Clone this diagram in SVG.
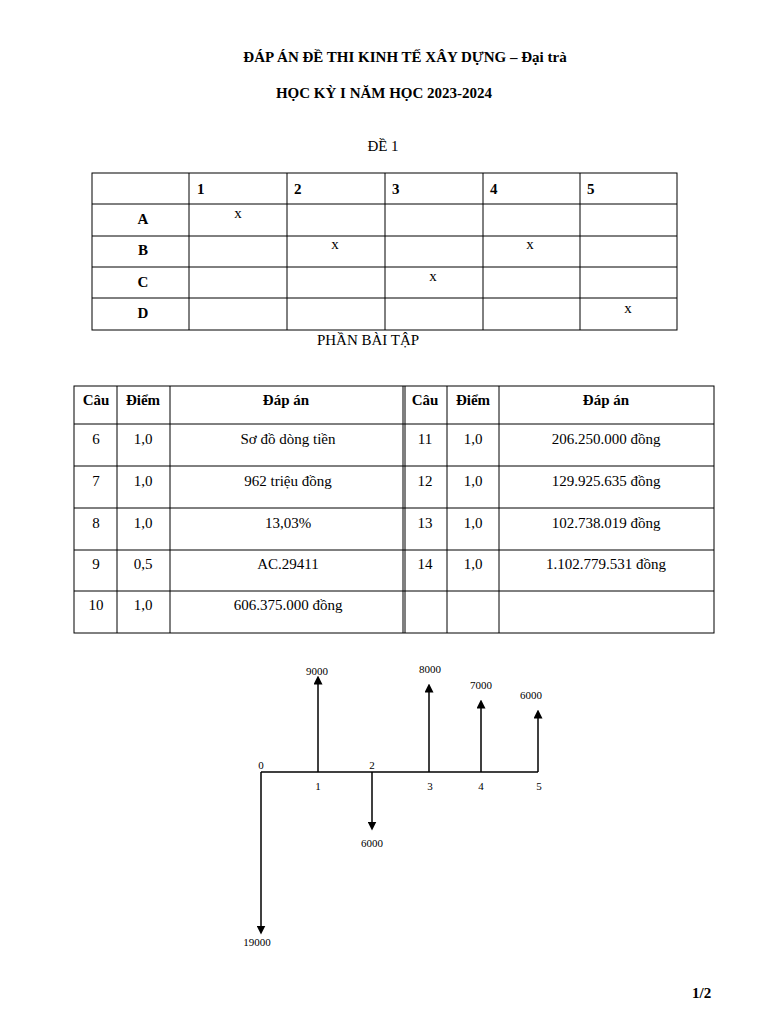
<svg xmlns="http://www.w3.org/2000/svg" width="768" height="1024" viewBox="0 0 768 1024">
<defs>
<marker id="ah" viewBox="0 0 6 6" refX="3" refY="3" markerWidth="6" markerHeight="6" orient="auto"><path d="M0,0 L6,3 L0,6 z" fill="#000"/></marker>
<style>
text{font-family:"Liberation Serif",serif;fill:#000}
.t{font-size:15px;font-weight:bold;text-anchor:middle}
.c{font-size:15px;text-anchor:middle}
.b{font-size:15px;font-weight:bold}
.bm{font-size:15px;font-weight:bold;text-anchor:middle}
.s{font-size:11px;text-anchor:middle}
.g line{stroke:#000;stroke-width:1}
.ax{stroke:#000;stroke-width:1.5;fill:none}
</style>
</defs>
<rect width="768" height="1024" fill="#fff"/>
<g id="title">
<text class="t" x="405" y="62">ĐÁP ÁN ĐỀ THI KINH TẾ XÂY DỰNG – Đại trà</text>
<text class="t" x="384" y="98">HỌC KỲ I NĂM HỌC 2023-2024</text>
<text class="c" x="383" y="151">ĐỀ 1</text>
</g>
<g id="table1" class="g">
<rect x="92" y="173" width="585" height="157" fill="none" stroke="#000"/>
<line x1="92" y1="204" x2="677" y2="204"/><line x1="92" y1="236" x2="677" y2="236"/><line x1="92" y1="267" x2="677" y2="267"/><line x1="92" y1="298" x2="677" y2="298"/>
<line x1="189" y1="173" x2="189" y2="330"/><line x1="287" y1="173" x2="287" y2="330"/><line x1="385" y1="173" x2="385" y2="330"/><line x1="483" y1="173" x2="483" y2="330"/><line x1="580" y1="173" x2="580" y2="330"/>
<text class="b" x="197" y="194">1</text><text class="b" x="294" y="194">2</text><text class="b" x="392" y="194">3</text><text class="b" x="490" y="194">4</text><text class="b" x="587" y="194">5</text>
<text class="bm" x="143" y="224">A</text><text class="bm" x="143" y="255">B</text><text class="bm" x="143" y="287">C</text><text class="bm" x="143" y="318">D</text>
<text class="c" x="238" y="218">x</text><text class="c" x="335" y="249">x</text><text class="c" x="530" y="249">x</text><text class="c" x="433" y="281">x</text><text class="c" x="628" y="313">x</text>
</g>
<text class="c" x="368" y="345">PHẦN BÀI TẬP</text>
<g id="table2" class="g">
<rect x="74" y="386" width="640" height="247" fill="none" stroke="#000"/>
<line x1="74" y1="424" x2="714" y2="424"/><line x1="74" y1="466" x2="714" y2="466"/><line x1="74" y1="508" x2="714" y2="508"/><line x1="74" y1="550" x2="714" y2="550"/><line x1="74" y1="591" x2="714" y2="591"/>
<line x1="117" y1="386" x2="117" y2="633"/><line x1="170" y1="386" x2="170" y2="633"/><line x1="403" y1="386" x2="403" y2="633"/><line x1="405" y1="386" x2="405" y2="633"/><line x1="447" y1="386" x2="447" y2="633"/><line x1="499" y1="386" x2="499" y2="633"/>
<text class="bm" x="96" y="405">Câu</text><text class="bm" x="143" y="405">Điểm</text><text class="bm" x="286" y="405">Đáp án</text>
<text class="bm" x="425" y="405">Câu</text><text class="bm" x="473" y="405">Điểm</text><text class="bm" x="606" y="405">Đáp án</text>
<text class="c" x="96" y="444">6</text><text class="c" x="143" y="444">1,0</text><text class="c" x="288" y="444">Sơ đồ dòng tiền</text>
<text class="c" x="96" y="486">7</text><text class="c" x="143" y="486">1,0</text><text class="c" x="288" y="486">962 triệu đồng</text>
<text class="c" x="96" y="528">8</text><text class="c" x="143" y="528">1,0</text><text class="c" x="288" y="528">13,03%</text>
<text class="c" x="96" y="569">9</text><text class="c" x="143" y="569">0,5</text><text class="c" x="288" y="569">AC.29411</text>
<text class="c" x="96" y="610">10</text><text class="c" x="143" y="610">1,0</text><text class="c" x="288" y="610">606.375.000 đồng</text>
<text class="c" x="425" y="444">11</text><text class="c" x="473" y="444">1,0</text><text class="c" x="606" y="444">206.250.000 đồng</text>
<text class="c" x="425" y="486">12</text><text class="c" x="473" y="486">1,0</text><text class="c" x="606" y="486">129.925.635 đồng</text>
<text class="c" x="425" y="528">13</text><text class="c" x="473" y="528">1,0</text><text class="c" x="606" y="528">102.738.019 đồng</text>
<text class="c" x="425" y="569">14</text><text class="c" x="473" y="569">1,0</text><text class="c" x="606" y="569">1.102.779.531 đồng</text>
</g>
<g id="cashflow">
<line class="ax" x1="261" y1="772" x2="538" y2="772"/>
<line class="ax" x1="318" y1="772" x2="318" y2="680" marker-end="url(#ah)"/>
<line class="ax" x1="429" y1="772" x2="429" y2="688" marker-end="url(#ah)"/>
<line class="ax" x1="481" y1="772" x2="481" y2="704" marker-end="url(#ah)"/>
<line class="ax" x1="538" y1="772" x2="538" y2="714" marker-end="url(#ah)"/>
<line class="ax" x1="372" y1="772" x2="372" y2="826" marker-end="url(#ah)"/>
<line class="ax" x1="261" y1="772" x2="261" y2="930" marker-end="url(#ah)"/>
<text class="s" x="317" y="675">9000</text><text class="s" x="430" y="673">8000</text><text class="s" x="481" y="689">7000</text><text class="s" x="531" y="699">6000</text>
<text class="s" x="261" y="769">0</text><text class="s" x="372" y="769">2</text>
<text class="s" x="318" y="790">1</text><text class="s" x="430" y="790">3</text><text class="s" x="481" y="790">4</text><text class="s" x="539" y="790">5</text>
<text class="s" x="372" y="847">6000</text><text class="s" x="257" y="946">19000</text>
</g>
<text class="b" x="692" y="998">1/2</text>
</svg>
